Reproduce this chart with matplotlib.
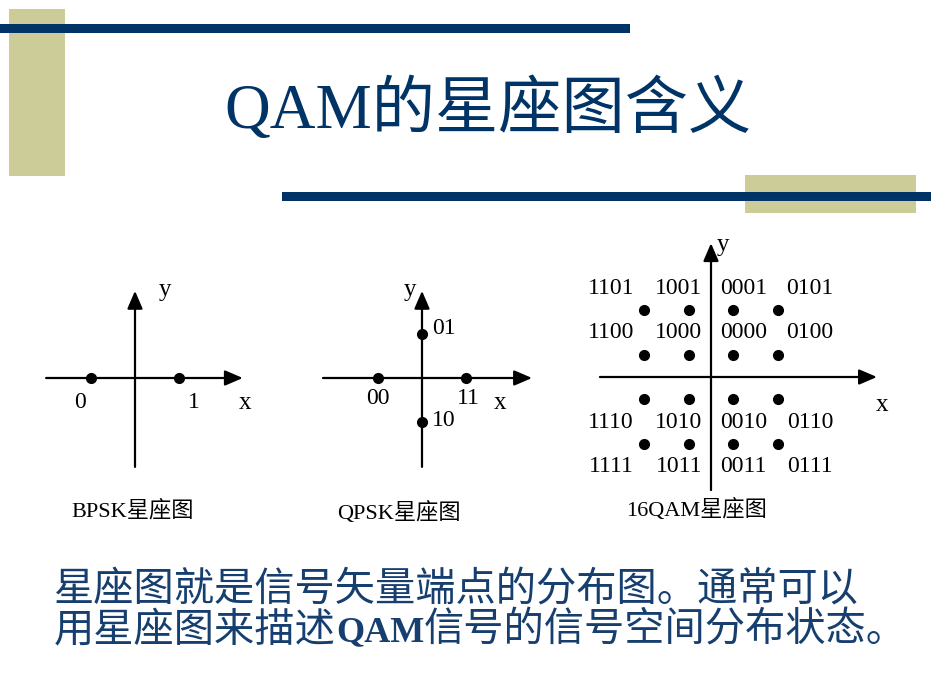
import matplotlib
matplotlib.use('Agg')
import matplotlib.pyplot as plt
from matplotlib.patches import Rectangle

# ---------------- data ----------------
title = 'QAM的星座图含义'
captions = ['BPSK星座图', 'QPSK星座图', '16QAM星座图']
body_line1 = '星座图就是信号矢量端点的分布图。通常可以'
body_line2 = ['用星座图来描述', 'QAM', '信号的信号空间分布状态。']

bpsk_i = [-1, 1]
bpsk_q = [0, 0]
bpsk_labels = ['0', '1']

qpsk_i = [-1, 1, 0, 0]
qpsk_q = [0, 0, 1, -1]
qpsk_labels = ['00', '11', '01', '10']

qam_levels_i = [-3, -1, 1, 3]
qam_levels_q = [3, 1, -1, -3]
qam_labels = [['1101', '1001', '0001', '0101'],
              ['1100', '1000', '0000', '0100'],
              ['1110', '1010', '0010', '0110'],
              ['1111', '1011', '0011', '0111']]

# ---------------- style ----------------
W, H = 950, 678
NAVY = '#003366'
KHAKI = '#CCCC99'
TEXTBLUE = '#163F70'
SERIF = ['Liberation Serif', 'Noto Sans CJK SC']
CJK = ['Noto Sans CJK SC', 'DejaVu Sans']

fig = plt.figure(figsize=(W / 100, H / 100), dpi=100)
bg = fig.add_axes([0, 0, 1, 1])
bg.set_xlim(0, W)
bg.set_ylim(H, 0)
bg.axis('off')

# decorations
bg.add_patch(Rectangle((9, 9), 56, 167, color=KHAKI, lw=0))
bg.add_patch(Rectangle((745, 175), 171, 38, color=KHAKI, lw=0))
bg.add_patch(Rectangle((0, 24), 630, 9, color=NAVY, lw=0))
bg.add_patch(Rectangle((282, 192), 649, 9, color=NAVY, lw=0))

bg.text(488, 110, title, ha='center', va='center', fontsize=45.5,
        color=NAVY, family=SERIF)

# body text
bg.text(54, 590, body_line1, ha='left', va='center', fontsize=29,
        color=TEXTBLUE, family=CJK)
renderer = fig.canvas.get_renderer()
x = 54
styles = [dict(family=CJK, fontsize=29),
          dict(family=SERIF, fontweight='bold', fontsize=26),
          dict(family=CJK, fontsize=29)]
for seg, st in zip(body_line2, styles):
    t = bg.text(x, 641, seg, ha='left', va='baseline',
                color=TEXTBLUE, **st)
    bb = t.get_window_extent(renderer=renderer)
    x = bg.transData.inverted().transform((bb.x1, bb.y0))[0]

# captions
cap_pos = [(133, 511), (399, 513), (697, 510)]
for cap, (cx, cy) in zip(captions, cap_pos):
    bg.text(cx, cy, cap, ha='center', va='center', fontsize=16,
            color='black', family=SERIF)


def diagram_axes(cx, cy, u, half=200):
    ax = fig.add_axes([(cx - half) / W, 1 - (cy + half) / H, 2 * half / W, 2 * half / H])
    ax.set_xlim(-half / u, half / u)
    ax.set_ylim(-half / u, half / u)
    ax.axis('off')
    ax.patch.set_alpha(0)
    return ax


ARROW = dict(arrowstyle='-|>,head_length=0.72,head_width=0.31', lw=1.6,
             color='black', mutation_scale=15, shrinkA=0, shrinkB=0)


def draw_axes_arrows(ax, xr, yr, xlab, ylab):
    ax.annotate('', xy=(xr[1], 0), xytext=(xr[0], 0), arrowprops=ARROW)
    ax.annotate('', xy=(0, yr[1]), xytext=(0, yr[0]), arrowprops=ARROW)
    ax.text(*xlab, 'x', ha='center', va='center', fontsize=18, family=SERIF)
    ax.text(*ylab, 'y', ha='center', va='center', fontsize=18, family=SERIF)


LABEL = dict(fontsize=17, family=SERIF, ha='center', va='center',
             textcoords='offset pixels')

# BPSK
ax1 = diagram_axes(135, 378, 44)
draw_axes_arrows(ax1, (-2.02, 2.45), (-2.02, 1.98), (2.5, -0.57), (0.68, 2.0))
ax1.plot(bpsk_i, bpsk_q, 'o', color='black', ms=7, clip_on=False)
for i, q, lab, off in zip(bpsk_i, bpsk_q, bpsk_labels, [(-11, -25), (15, -25)]):
    ax1.annotate(lab, xy=(i, q), xytext=off, **LABEL)

# QPSK
ax2 = diagram_axes(422, 378, 44)
draw_axes_arrows(ax2, (-2.25, 2.5), (-2.02, 1.98), (1.77, -0.57), (-0.27, 2.0))
ax2.plot(qpsk_i, qpsk_q, 'o', color='black', ms=7, clip_on=False)
for i, q, lab, off in zip(qpsk_i, qpsk_q, qpsk_labels,
                          [(0, -20), (2, -20), (22, 5), (22, 2)]):
    ax2.annotate(lab, xy=(i, q), xytext=off, **LABEL)

# 16QAM
ax3 = diagram_axes(711, 377, 22.3)
draw_axes_arrows(ax3, (-4.98, 7.44), (-5.07, 6.0), (7.67, -1.26), (0.54, 5.92))
col_dx = [-33, -10, 10, 32]
for r, q in enumerate(qam_levels_q):
    ax3.plot(qam_levels_i, [q] * len(qam_levels_i), 'o', color='black', ms=7,
             clip_on=False)
    dy = 22 if q > 0 else -23
    for c, i in enumerate(qam_levels_i):
        ax3.annotate(qam_labels[r][c], xy=(i, q), xytext=(col_dx[c], dy), **LABEL)

fig.savefig('out.png', dpi=100)
